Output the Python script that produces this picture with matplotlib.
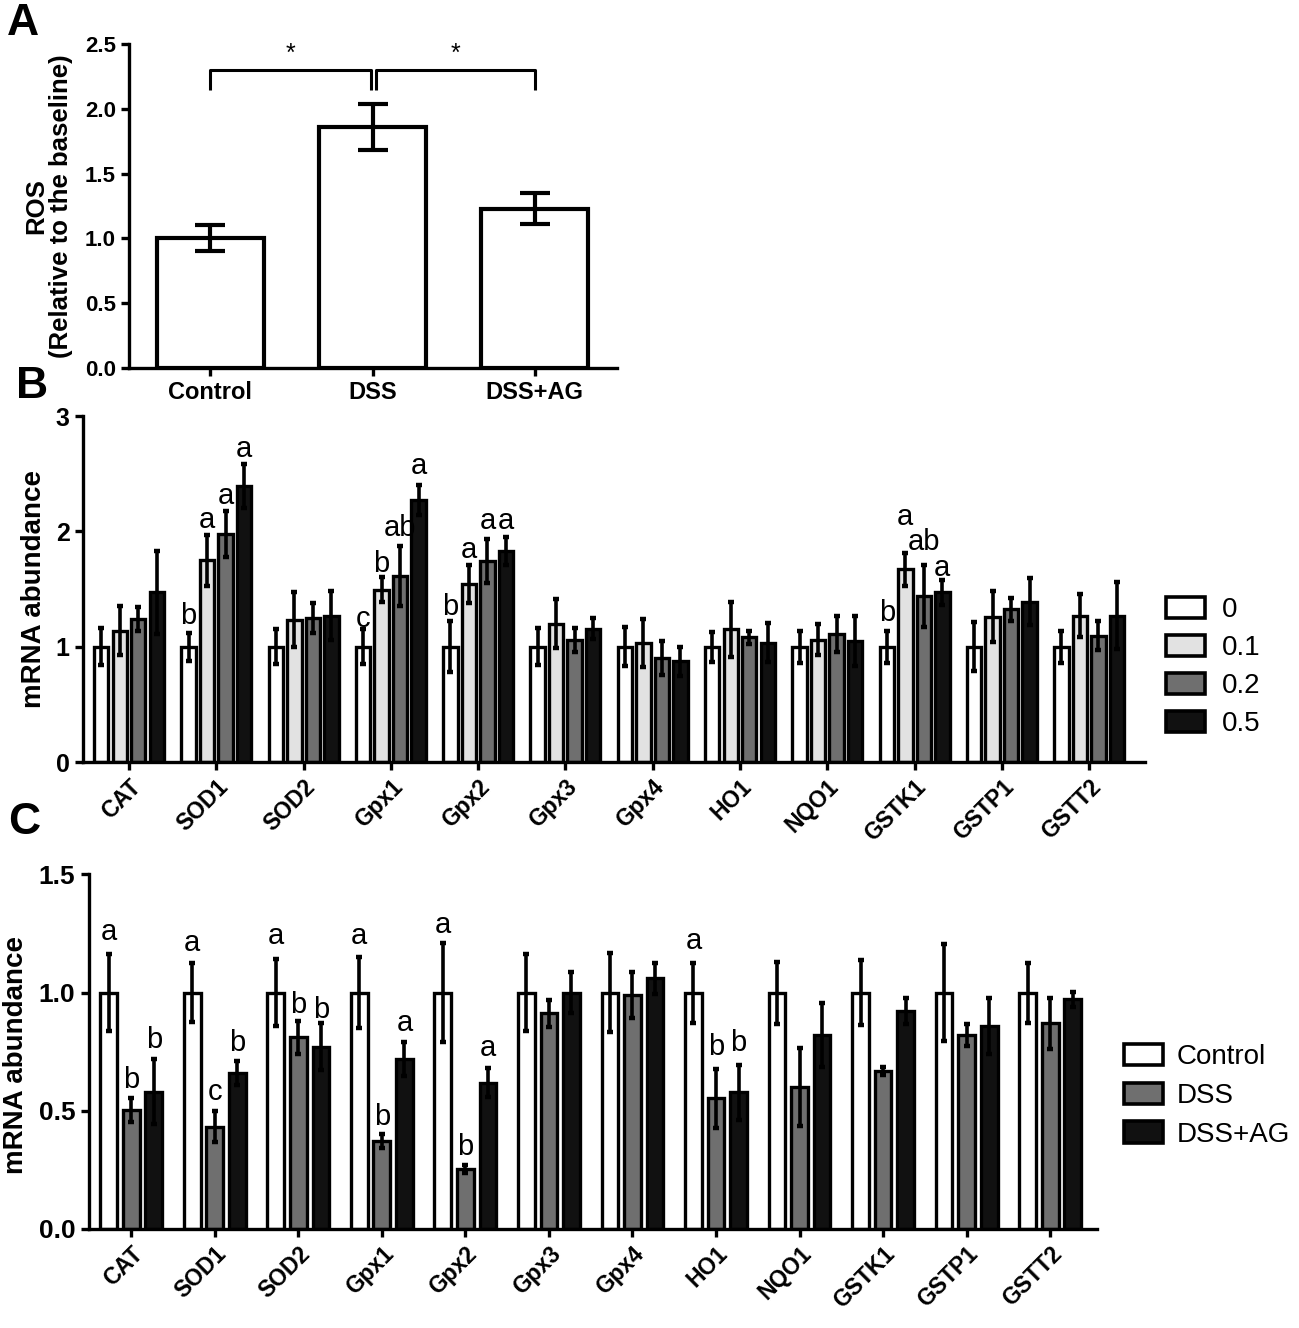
import numpy as np
import matplotlib
matplotlib.use("Agg")
import matplotlib.pyplot as plt
from matplotlib.patches import Patch

plt.rcParams['font.family'] = ['Liberation Sans', 'DejaVu Sans']

# ---------------- Panel A data ----------------
a_groups = ["Control", "DSS", "DSS+AG"]
a_vals = [1.00, 1.86, 1.23]
a_errs = [0.10, 0.18, 0.12]
a_ticks = [0.0, 0.5, 1.0, 1.5, 2.0, 2.5]

# ---------------- Panel B data ----------------
genes = ["CAT", "SOD1", "SOD2", "Gpx1", "Gpx2", "Gpx3", "Gpx4", "HO1",
         "NQO1", "GSTK1", "GSTP1", "GSTT2"]
b_series = ["0", "0.1", "0.2", "0.5"]
b_d0 = [1.00, 1.00, 1.00, 1.00, 1.00, 1.00, 1.00, 1.00, 1.00, 1.00, 1.00, 1.00]
b_d0_top = [1.16, 1.12, 1.15, 1.15, 1.22, 1.16, 1.17, 1.13, 1.14, 1.14, 1.215, 1.14]
b_d1 = [1.14, 1.75, 1.235, 1.495, 1.54, 1.20, 1.03, 1.15, 1.06, 1.67, 1.26, 1.27]
b_d1_top = [1.35, 1.97, 1.47, 1.60, 1.705, 1.41, 1.24, 1.39, 1.195, 1.81, 1.48, 1.46]
b_d2 = [1.24, 1.98, 1.245, 1.61, 1.74, 1.06, 0.90, 1.08, 1.11, 1.44, 1.325, 1.095]
b_d2_top = [1.345, 2.18, 1.375, 1.87, 1.93, 1.165, 1.045, 1.14, 1.27, 1.71, 1.425, 1.22]
b_d5 = [1.47, 2.39, 1.27, 2.27, 1.83, 1.155, 0.875, 1.035, 1.05, 1.47, 1.39, 1.27]
b_d5_top = [1.83, 2.58, 1.48, 2.40, 1.95, 1.245, 1.00, 1.205, 1.265, 1.575, 1.595, 1.56]
b_colors = ["white", "#e2e2e2", "#6f6f6f", "#111111"]
# letters: (gene index, bar index, letter, y centre)
b_letters = [(1, 0, "b", 1.27), (1, 1, "a", 2.10), (1, 2, "a", 2.31), (1, 3, "a", 2.71),
             (3, 0, "c", 1.24), (3, 1, "b", 1.72), (3, 2, "ab", 2.03), (3, 3, "a", 2.57),
             (4, 0, "b", 1.345), (4, 1, "a", 1.835), (4, 2, "a", 2.09), (4, 3, "a", 2.09),
             (9, 0, "b", 1.29), (9, 1, "a", 2.12), (9, 2, "ab", 1.91), (9, 3, "a", 1.68)]

# ---------------- Panel C data ----------------
c_series = ["Control", "DSS", "DSS+AG"]
c_ctrl = [1.00, 1.00, 1.00, 1.00, 1.00, 1.00, 1.00, 1.00, 1.00, 1.00, 1.00, 1.00]
c_ctrl_top = [1.162, 1.124, 1.142, 1.149, 1.211, 1.162, 1.169, 1.127, 1.131, 1.138, 1.204, 1.127]
c_dss = [0.503, 0.433, 0.811, 0.372, 0.254, 0.912, 0.99, 0.553, 0.602, 0.67, 0.82, 0.87]
c_dss_top = [0.555, 0.50, 0.88, 0.402, 0.271, 0.969, 1.086, 0.677, 0.767, 0.687, 0.867, 0.978]
c_ag = [0.581, 0.661, 0.771, 0.719, 0.619, 1.00, 1.06, 0.578, 0.82, 0.922, 0.86, 0.972]
c_ag_top = [0.719, 0.711, 0.87, 0.79, 0.68, 1.088, 1.127, 0.694, 0.955, 0.978, 0.978, 1.004]
c_colors = ["white", "#6f6f6f", "#111111"]
c_letters = [(0, 0, "a", 1.258), (0, 1, "b", 0.63), (0, 2, "b", 0.80),
             (1, 0, "a", 1.209), (1, 1, "c", 0.581), (1, 2, "b", 0.786),
             (2, 0, "a", 1.237), (2, 1, "b", 0.948), (2, 2, "b", 0.926),
             (3, 0, "a", 1.24), (3, 1, "b", 0.475), (3, 2, "a", 0.87),
             (4, 0, "a", 1.286), (4, 1, "b", 0.348), (4, 2, "a", 0.764),
             (7, 0, "a", 1.22), (7, 1, "b", 0.771), (7, 2, "b", 0.786)]

W, H = 1299, 1328
fig = plt.figure(figsize=(W / 100, H / 100), dpi=100)

SP_LW = 2.4
EDGE_LW = 2.4


def style_axes(ax):
    for s in ["top", "right"]:
        ax.spines[s].set_visible(False)
    for s in ["left", "bottom"]:
        ax.spines[s].set_linewidth(SP_LW)
    ax.tick_params(axis="both", width=SP_LW, length=6, direction="out")
    for lab in ax.get_xticklabels() + ax.get_yticklabels():
        lab.set_fontweight("bold")


def ax_rect(left, right, top, bottom):
    return [left / W, 1 - bottom / H, (right - left) / W, (bottom - top) / H]


# ================= Panel A =================
axA = fig.add_axes(ax_rect(129, 617, 44, 368))
xa = np.arange(len(a_groups))
axA.bar(xa, a_vals, width=0.66, color="white", edgecolor="black", linewidth=3.0, zorder=2)
axA.errorbar(xa, a_vals, yerr=a_errs, fmt="none", ecolor="black", elinewidth=3.0,
             capsize=11, capthick=3.0, zorder=3)
axA.set_xlim(-0.5, 2.506)
axA.set_ylim(0, 2.5)
axA.set_yticks(a_ticks)
axA.set_yticklabels([f"{t:.1f}" for t in a_ticks], fontsize=16)
axA.set_xticks(xa)
axA.set_xticklabels(a_groups, fontsize=17)
axA.set_ylabel("ROS\n(Relative to the baseline)", fontsize=18.5, fontweight="bold",
               linespacing=1.05)
axA.yaxis.set_label_coords(-0.115, 0.5)
style_axes(axA)
# significance brackets
for x0, x1 in [(0, 0.99), (1.02, 2)]:
    axA.plot([x0, x0, x1, x1], [2.145, 2.30, 2.30, 2.145], color="black", lw=2.2,
             solid_capstyle="butt", clip_on=False, zorder=4)
    axA.text((x0 + x1) / 2, 2.33, "*", ha="center", va="bottom", fontsize=18)

# ================= Panel B =================
axB = fig.add_axes(ax_rect(83, 1145, 416, 762))
xg = np.arange(len(genes))
b_means = [b_d0, b_d1, b_d2, b_d5]
b_tops = [b_d0_top, b_d1_top, b_d2_top, b_d5_top]
stepB = 0.212
for i in range(4):
    xs = xg + (i - 1.5) * stepB
    m = np.array(b_means[i])
    e = np.array(b_tops[i]) - m
    axB.bar(xs, m, width=0.165, color=b_colors[i], edgecolor="black", linewidth=EDGE_LW,
            zorder=2, label=b_series[i])
    axB.errorbar(xs, m, yerr=e, fmt="none", ecolor="black", elinewidth=2.6,
                 capsize=2.5, capthick=3.2, zorder=3)
for gi, bi, txt, y in b_letters:
    axB.text(gi + (bi - 1.5) * stepB, y, txt, ha="center", va="center", fontsize=21)
axB.set_xlim(-0.527, 11.64)
axB.set_ylim(0, 3)
axB.set_yticks([0, 1, 2, 3])
axB.set_yticklabels(["0", "1", "2", "3"], fontsize=18)
axB.set_xticks(xg)
axB.set_xticklabels(genes, fontsize=16.5, rotation=45, ha="right", rotation_mode="anchor")
axB.set_ylabel("mRNA abundance", fontsize=20, fontweight="bold")
axB.yaxis.set_label_coords(-0.034, 0.5)
style_axes(axB)
hB = [Patch(facecolor=c, edgecolor="black", linewidth=2.6) for c in b_colors]
fig.legend(hB, b_series, loc="upper left", bbox_to_anchor=(1152 / W, 1 - 583 / H),
           frameon=False, fontsize=20, borderpad=0, handlelength=1.4, handleheight=0.8,
           handletextpad=0.6, labelspacing=0.42)

# ================= Panel C =================
axC = fig.add_axes(ax_rect(88.6, 1097, 874.3, 1229))
c_means = [c_ctrl, c_dss, c_ag]
c_tops = [c_ctrl_top, c_dss_top, c_ag_top]
stepC = 0.27
for i in range(3):
    xs = xg + (i - 1) * stepC
    m = np.array(c_means[i])
    e = np.array(c_tops[i]) - m
    axC.bar(xs, m, width=0.2, color=c_colors[i], edgecolor="black", linewidth=EDGE_LW,
            zorder=2, label=c_series[i])
    axC.errorbar(xs, m, yerr=e, fmt="none", ecolor="black", elinewidth=2.6,
                 capsize=2.5, capthick=3.2, zorder=3)
for gi, bi, txt, y in c_letters:
    axC.text(gi + (bi - 1) * stepC, y, txt, ha="center", va="center", fontsize=21)
axC.set_xlim(-0.51, 11.56)
axC.set_ylim(0, 1.5)
axC.set_yticks([0.0, 0.5, 1.0, 1.5])
axC.set_yticklabels(["0.0", "0.5", "1.0", "1.5"], fontsize=19)
axC.set_xticks(xg)
axC.set_xticklabels(genes, fontsize=16.5, rotation=45, ha="right", rotation_mode="anchor")
axC.set_ylabel("mRNA abundance", fontsize=20, fontweight="bold")
axC.yaxis.set_label_coords(-0.059, 0.49)
style_axes(axC)
hC = [Patch(facecolor=c, edgecolor="black", linewidth=2.6) for c in c_colors]
fig.legend(hC, c_series, loc="upper left", bbox_to_anchor=(1110 / W, 1 - 1030 / H),
           frameon=False, fontsize=20, borderpad=0, handlelength=1.4, handleheight=0.8,
           handletextpad=0.5, labelspacing=0.45)

# panel letters
fig.text(7 / W, 1 - 3 / H, "A", fontsize=32, fontweight="bold", ha="left", va="top")
fig.text(16 / W, 1 - 366 / H, "B", fontsize=32, fontweight="bold", ha="left", va="top")
fig.text(8 / W, 1 - 802 / H, "C", fontsize=32, fontweight="bold", ha="left", va="top")

fig.savefig("out.png", dpi=100)
